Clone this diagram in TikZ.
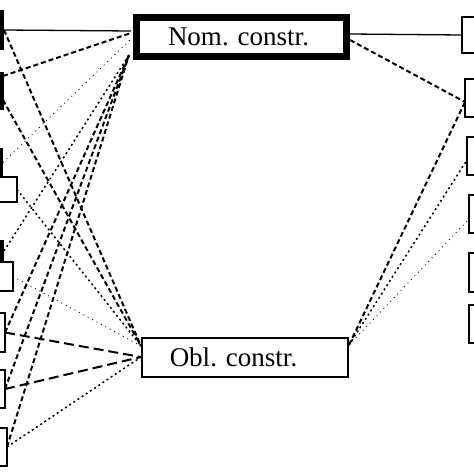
\documentclass[tikz,border=0pt]{standalone}
\usepackage{fontspec}
\setmainfont{Liberation Serif}
\usetikzlibrary{calc}
\begin{document}
\begin{tikzpicture}[x=1pt,y=-1pt,
  box/.style={draw, line width=2pt, inner sep=0pt, outer sep=0pt, anchor=north west},
  bar/.style={fill=black, inner sep=0pt, outer sep=0pt, anchor=north west},
  solidc/.style={line width=1.3pt},
  dashc/.style={line width=2pt, dash pattern=on 5pt off 3pt},
  longdash/.style={line width=2pt, dash pattern=on 10pt off 5pt},
  dotc/.style={line width=1.5pt, dash pattern=on 2pt off 3pt},
  finedot/.style={line width=0.8pt, dash pattern=on 1pt off 4pt},
  label/.style={font=\fontsize{27}{32}\selectfont}]
\useasboundingbox (0,0) rectangle (474,474);
\clip (0,0) rectangle (474,474);
% left column
\node[bar, minimum width=4pt, minimum height=40pt] (lA) at (0,10) {};
\node[bar, minimum width=4pt, minimum height=38pt] (lB) at (0,72) {};
\node[bar, minimum width=3pt, minimum height=29pt] (lCb) at (0,148) {};
\node[box, minimum width=27pt, minimum height=25pt] (lC) at (-10,177) {};
\node[bar, minimum width=4pt, minimum height=22pt] (lDb) at (0,240) {};
\node[box, minimum width=23pt, minimum height=29pt] (lD) at (-10,262) {};
\node[box, minimum width=15pt, minimum height=39pt] (lE) at (-10,313) {};
\node[box, minimum width=15pt, minimum height=38pt] (lF) at (-10,370) {};
\node[box, minimum width=17pt, minimum height=38pt] (lG) at (-10,428) {};
% right column
\node[box, minimum width=30pt, minimum height=36pt] (r1) at (462,17) {};
\node[box, minimum width=30pt, minimum height=38pt] (r2) at (465,79) {};
\node[box, minimum width=30pt, minimum height=38pt] (r3) at (467,137) {};
\node[box, minimum width=30pt, minimum height=38pt] (r4) at (469,195) {};
\node[box, minimum width=30pt, minimum height=39pt] (r5) at (469,253) {};
\node[box, minimum width=30pt, minimum height=38pt] (r6) at (469,305) {};
% central nodes
\node[draw, line width=7pt, minimum width=210pt, minimum height=39pt, inner sep=0pt, outer sep=3.5pt,
  label] (nom) at (241.5,37) {Nom. constr.\hspace*{6pt}};
\node[draw, line width=2pt, minimum width=206pt, minimum height=39pt, inner sep=0pt, outer sep=1pt,
  label] (obl) at (245,357.5) {Obl. constr.\hspace*{23pt}};
% anchor points
\coordinate (n1) at ($(nom.north west)+(-2,17)$);
\coordinate (n2) at ($(nom.north west)+(-2,19)$);
\coordinate (n3) at ($(nom.north west)+(-3,26)$);
\coordinate (n4) at ($(nom.south west)+(-4,-5)$);
\coordinate (nr1) at ($(nom.north east)+(0,20)$);
\coordinate (nr2) at ($(nom.north east)+(0,26)$);
\coordinate (o1) at ($(obl.north west)+(0,9)$);
\coordinate (o2) at ($(obl.north west)+(0,20)$);
\coordinate (or) at ($(obl.north east)+(0,8)$);
\coordinate (b1) at ($(lB.north east)+(-1,4)$);
\coordinate (b2) at ($(lB.east)+(-1,9)$);
% left -> Nom
\draw[solidc] (lA.east) -- (n1);
\draw[dashc] (b1) -- (n2);
\draw[finedot] (lCb.east) -- (n3);
\draw[dotc] (lDb.east) -- (n4);
\draw[dashc] (lE.east) -- (n4);
\draw[dashc] (lF.east) -- (n4);
\draw[dashc] (lG.east) -- (n4);
% left -> Obl
\draw[dashc] (lA.east) -- (o1);
\draw[dashc] (b2) -- (o1);
\draw[dotc] (lC.east) -- (o1);
\draw[finedot] (lD.east) -- (o1);
\draw[longdash] (lE.east) -- (o2);
\draw[longdash] (lF.east) -- (o2);
\draw[dotc] (lG.east) -- (o2);
% right side
\draw[solidc] (nr1) -- (r1.west);
\draw[dashc] (nr2) -- ($(r2.west)+(0,4)$);
\draw[dashc] (or) -- ($(r2.west)+(0,4)$);
\draw[dotc] (or) -- ($(r3.west)+(0,4)$);
\draw[finedot] (or) -- ($(r4.west)+(0,5)$);
\end{tikzpicture}
\end{document}
